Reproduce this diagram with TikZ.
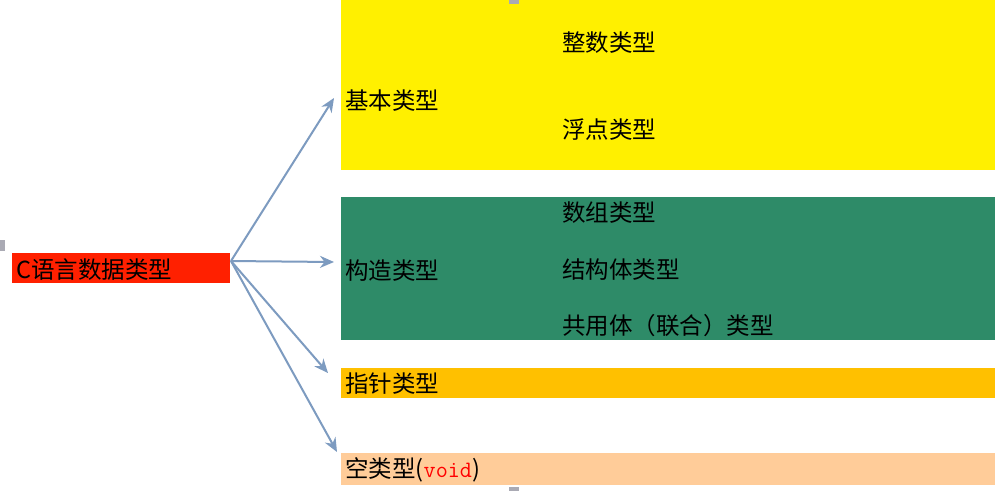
\documentclass[tikz,border=0pt]{standalone}
\usepackage{fontspec}
\setmainfont{Noto Sans CJK SC}
\usetikzlibrary{arrows.meta}
\definecolor{cyellow}{RGB}{255,240,0}
\definecolor{cgreen}{RGB}{46,139,104}
\definecolor{corange}{RGB}{255,192,0}
\definecolor{cpeach}{RGB}{255,204,153}
\definecolor{cred}{RGB}{255,32,0}
\definecolor{carrow}{RGB}{125,155,192}
\definecolor{chandle}{RGB}{170,170,180}
\tikzset{
  band/.style={anchor=north west, inner sep=0, outer sep=0},
  lbl/.style={anchor=west, inner sep=0, font=\fontsize{23.5}{23.5}\selectfont, text=black},
  conn/.style={draw=carrow, line width=2pt, -{Stealth[length=14pt,width=12pt]}},
  handle/.style={fill=chandle, draw=none}
}
\begin{document}
\begin{tikzpicture}[x=1pt,y=-1pt]
\useasboundingbox (0,0) rectangle (1006,491);
\fill[white] (0,0) rectangle (1006,491);
% bands
\node[band, fill=cyellow, minimum width=654pt, minimum height=170pt] (basic) at (341,0) {};
\node[band, fill=cgreen, minimum width=654pt, minimum height=143pt] (struct) at (341,197) {};
\node[band, fill=corange, minimum width=654pt, minimum height=30pt] (ptr) at (341,368) {};
\node[band, fill=cpeach, minimum width=654pt, minimum height=32pt] (void) at (341,453) {};
% root
\node[band, fill=cred, minimum width=218pt, minimum height=30pt] (root) at (12,253) {};
\node[lbl] (rootT) at (16,270) {C语言数据类型};
% labels
\node[lbl] (basicT) at (345,101) {基本类型};
\node[lbl] (intT) at (562,43) {整数类型};
\node[lbl] (floatT) at (562,130) {浮点类型};
\node[lbl] (structT) at (345,271) {构造类型};
\node[lbl] (arrT) at (562,213) {数组类型};
\node[lbl] (stT) at (562,270) {结构体类型};
\node[lbl] (unT) at (562,326) {共用体（联合）类型};
\node[lbl] (ptrT) at (345,384) {指针类型};
\node[lbl] (voidT) at (345,470) {空类型(\textcolor{red}{\ttfamily\addfontfeature{LetterSpace=10}void})};
% arrow endpoints
\coordinate (src) at (231,261);
\coordinate (e1) at (334,98);
\coordinate (e2) at (334,262);
\coordinate (e3) at (328,373);
\coordinate (e4) at (337,452);
\draw[conn] (src) -- (e1);
\draw[conn] (src) -- (e2);
\draw[conn] (src) -- (e3);
\draw[conn] (src) -- (e4);
% screenshot handles
\fill[handle] (0,240) rectangle (5,251);
\fill[handle] (509,0) rectangle (519,4);
\fill[handle] (509,487) rectangle (519,491);
\end{tikzpicture}
\end{document}
